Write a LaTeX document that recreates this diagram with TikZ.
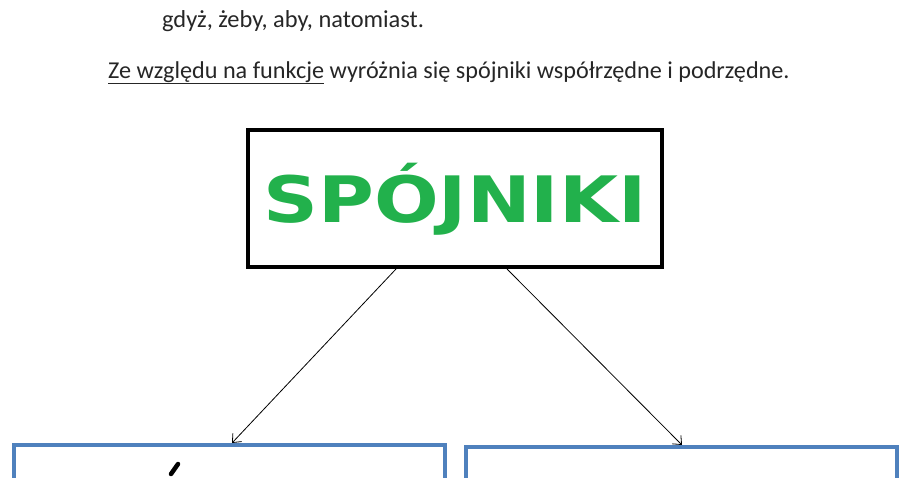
\documentclass[tikz,border=0pt]{standalone}
\usepackage{fontspec}
\setmainfont{Carlito}
\newfontfamily\comicfont[FakeStretch=1.19]{DejaVu Sans}
\usepackage{xcolor}
\usetikzlibrary{arrows.meta, calc, positioning}
\definecolor{paintgreen}{RGB}{34,177,76}
\definecolor{boxblue}{RGB}{79,129,189}
\definecolor{textgray}{RGB}{38,38,38}
\newcommand{\bluebox}[3]{
    \node[draw=boxblue, line width=4pt, minimum width=#3, minimum height=200pt,
          anchor=north, inner sep=0pt] (#1) at (#2) {};
}

\begin{document}
\begin{tikzpicture}[x=1pt, y=-1pt]
                        \useasboundingbox (0,0) rectangle (909,477);
                        \clip (0,0) rectangle (909,477);
                        \node[anchor=base west, inner sep=0pt, text=textgray, font=\fontsize{24.4}{28}\selectfont] (line1) at (162,27) {gdyż, żeby, aby, natomiast.};
                        \node[anchor=base west, inner sep=0pt, text=textgray, font=\fontsize{24.2}{28}\selectfont] (line2) at (108,78) {\underline{Ze względu na funkcje} wyróżnia się spójniki współrzędne i podrzędne.};
                        \node[draw, line width=4pt, minimum width=414pt, minimum height=137pt, inner sep=0pt] (spojniki) at (454.5,198.5) {};
                        \node[text=paintgreen, font=\comicfont\bfseries\fontsize{64}{70}\selectfont, anchor=base] (spojniki-t) at (455,222) {SPÓJNIKI};
                        \bluebox{wsp}{229.5,443}{431pt}
                        \bluebox{pod}{681.5,445}{431pt}
                        \draw[line width=4.5pt, line cap=round] (171,474) -- (178,464);
                        \draw[-{Straight Barb[length=7pt, width=12pt]}, line width=0.8pt]
                        ($(spojniki.south)+(-58.5,0)$) -- ($(wsp.north)+(2.5,0)$);
                        \draw[-{Straight Barb[length=7pt, width=12pt]}, line width=0.8pt]
                        ($(spojniki.south)+(52.5,0)$) -- ($(pod.north)+(0.5,0)$);
                    \end{tikzpicture}
\end{document}
